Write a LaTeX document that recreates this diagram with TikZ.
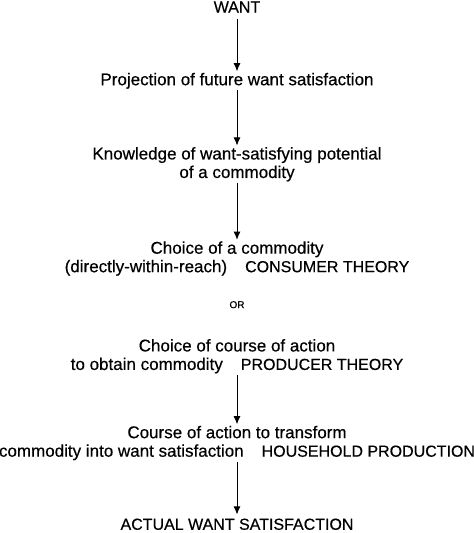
\documentclass[tikz,border=0pt]{standalone}
\usepackage{fontspec}
\setmainfont{Liberation Sans}[FakeBold=0.4]
\usepackage{tikz}
\usetikzlibrary{positioning}
\usetikzlibrary{arrows.meta}

\newcommand{\theory}[1]{\hspace{18pt}{\fontsize{16}{18.5}\selectfont #1}}

\begin{document}
\begin{tikzpicture}[
  stage/.style={align=center, inner sep=0pt, font=\fontsize{17}{18.5}\selectfont},
  caps/.style={inner sep=0pt, font=\fontsize{16}{18.5}\selectfont},
  flow/.style={-{Latex[length=8pt,width=7pt]}, line width=0.8pt, shorten <=1.5pt, shorten >=1.5pt}
]

  \useasboundingbox (0,0) rectangle (474pt,-533pt);

  % Define nodes
  \node[caps, anchor=base] (want) at (237pt,-12.5pt) {WANT};
  \node[stage, below=60pt of want] (proj) {Projection of future want satisfaction};
  \node[stage, below=58pt of proj] (know) {Knowledge of want-satisfying potential\\of a commodity};
  \node[stage, below=59.5pt of know] (cons) {Choice of a commodity\\(directly-within-reach)\theory{CONSUMER THEORY}};
  \node[inner sep=0pt, font=\fontsize{10}{12}\selectfont, below=25pt of cons] (or) {OR};
  \node[stage, below=30.5pt of or] (prod) {Choice of course of action\\to obtain commodity\theory{PRODUCER THEORY}};
  \node[stage, below=52pt of prod] (house) {Course of action to transform\\commodity into want satisfaction\theory{HOUSEHOLD PRODUCTION}};
  \node[caps, below=58pt of house] (actual) {ACTUAL WANT SATISFACTION};

  % Connect the nodes
  \draw[flow, shorten <=6pt] (want) -- (proj);
  \draw[flow] (proj) -- (know);
  \draw[flow] (know) -- (cons);
  \draw[flow] (prod) -- (house);
  \draw[flow, shorten >=4pt] (house) -- (actual);

\end{tikzpicture}
\end{document}
